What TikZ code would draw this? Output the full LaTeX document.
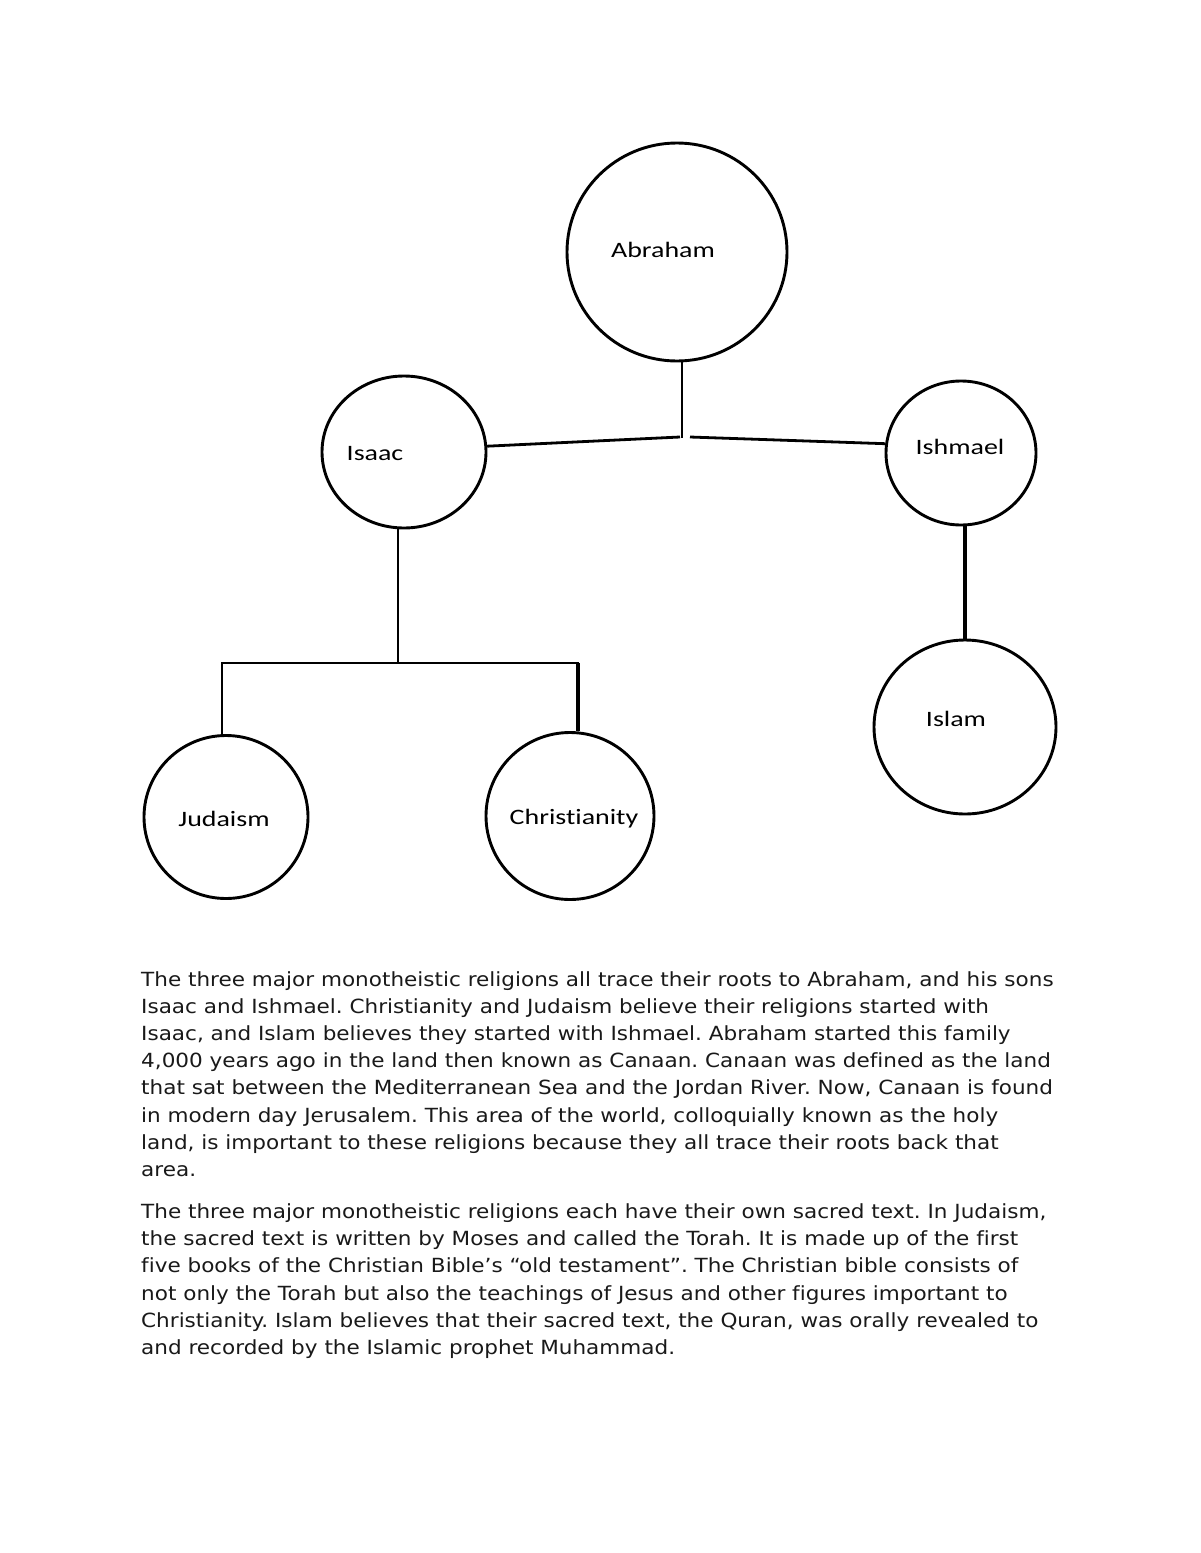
\documentclass[tikz,border=0pt]{standalone}
\usepackage{fontspec}
\setmainfont[Ligatures=NoCommon]{DejaVu Sans}
\newfontfamily\labelfont[Ligatures=NoCommon]{Carlito}
\usetikzlibrary{shapes.geometric}
\tikzset{
  circ/.style={draw=black, line width=2.9pt, ellipse, inner sep=0pt},
  lab/.style={font=\labelfont\fontsize{22}{26}\selectfont, inner sep=0pt, anchor=base},
  conn/.style={draw=black, line width=2.8pt},
  para/.style={font=\fontsize{19.5}{27}\selectfont\frenchspacing, inner sep=0pt, anchor=base west, text=black!90}
}
\newcommand{\wlab}[1]{\scalebox{1.27}[1]{#1}}
\newcommand{\wtxt}[1]{\scalebox{1.105}[1]{#1}}
\begin{document}
\begin{tikzpicture}[x=1pt,y=-1pt]
\useasboundingbox[fill=white] (0,0) rectangle (1200,1553);

% circles
\node[circ, minimum width=220pt, minimum height=218pt] (abraham) at (677,252) {};
\node[circ, minimum width=164pt, minimum height=152pt] (isaac) at (404,452) {};
\node[circ, minimum width=150pt, minimum height=144pt] (ishmael) at (961,453) {};
\node[circ, minimum width=182pt, minimum height=174pt] (islam) at (965,727) {};
\node[circ, minimum width=164pt, minimum height=163pt] (judaism) at (226,817) {};
\node[circ, minimum width=168pt, minimum height=167pt] (christianity) at (570,816) {};

% labels
\node[lab] (abrahamT) at (663,257) {\wlab{Abraham}};
\node[lab] (isaacT) at (375,460) {\wlab{Isaac}};
\node[lab] (ishmaelT) at (960,454) {\wlab{Ishmael}};
\node[lab] (islamT) at (956,726) {\wlab{Islam}};
\node[lab] (judaismT) at (224,826) {\wlab{Judaism}};
\node[lab] (christianityT) at (574,824) {\wlab{Christianity}};

% junction coordinates
\coordinate (jA) at (682,438);
\coordinate (jL) at (680,437);
\coordinate (jR) at (690,437);
\coordinate (jI) at (398,663);
\coordinate (jJ) at (222,663);
\coordinate (jC) at (578,663);

% connectors
\draw[conn] (abraham.south -| jA) -- (jA);
\draw[conn] (isaac.4) -- (jL);
\draw[conn] (jR) -- (ishmael.173);
\draw[conn] (isaac.south -| jI) -- (jI);
\draw[conn, line cap=rect] (jJ) -- (jC);
\draw[conn] (jJ) -- (judaism.north -| jJ);
\draw[conn, line width=3.4pt] (jC) -- (christianity.north -| jC);
\draw[conn, line width=3.8pt] (ishmael.south -| islam.north) -- (islam.north);

% paragraph 1
\node[para] (p1) at (141,986) {\wtxt{The three major monotheistic religions all trace their roots to Abraham, and his sons}};
\node[para] (p2) at (141,1013) {\wtxt{Isaac and Ishmael. Christianity and Judaism believe their religions started with}};
\node[para] (p3) at (141,1040) {\wtxt{Isaac, and Islam believes they started with Ishmael. Abraham started this family}};
\node[para] (p4) at (141,1067) {\wtxt{4,000 years ago in the land then known as Canaan. Canaan was defined as the land}};
\node[para] (p5) at (141,1094) {\wtxt{that sat between the Mediterranean Sea and the Jordan River. Now, Canaan is found}};
\node[para] (p6) at (141,1122) {\wtxt{in modern day Jerusalem. This area of the world, colloquially known as the holy}};
\node[para] (p7) at (141,1149) {\wtxt{land, is important to these religions because they all trace their roots back that}};
\node[para] (p8) at (141,1176) {\wtxt{area.}};

% paragraph 2
\node[para] (q1) at (141,1218) {\wtxt{The three major monotheistic religions each have their own sacred text. In Judaism,}};
\node[para] (q2) at (141,1245) {\wtxt{the sacred text is written by Moses and called the Torah. It is made up of the first}};
\node[para] (q3) at (141,1272) {\wtxt{five books of the Christian Bible’s “old testament”. The Christian bible consists of}};
\node[para] (q4) at (141,1300) {\wtxt{not only the Torah but also the teachings of Jesus and other figures important to}};
\node[para] (q5) at (141,1327) {\wtxt{Christianity. Islam believes that their sacred text, the Quran, was orally revealed to}};
\node[para] (q6) at (141,1354) {\wtxt{and recorded by the Islamic prophet Muhammad.}};
\end{tikzpicture}
\end{document}
